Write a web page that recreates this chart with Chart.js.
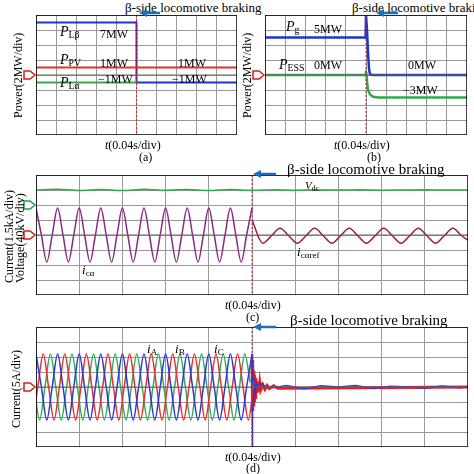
<!DOCTYPE html>
<html><head><meta charset="utf-8">
<script src="https://cdn.jsdelivr.net/npm/chart.js@4"></script>
<style>
body{margin:0;background:#fff;width:474px;height:474px;position:relative;overflow:hidden;font-family:"Liberation Serif",serif;}
.box{position:absolute;}
.t{position:absolute;font-family:"Liberation Serif",serif;color:#000;white-space:nowrap;line-height:1;}
.v{transform-origin:left top;transform:rotate(-90deg);}
i{font-style:italic}
sub{font-size:70%;vertical-align:-2px}
</style></head><body>
<div class="box" style="left:36px;top:15px;width:201px;height:120px"><canvas id="ca"></canvas></div>
<div class="box" style="left:265px;top:15px;width:202px;height:120px"><canvas id="cb"></canvas></div>
<div class="box" style="left:36px;top:175px;width:432px;height:120px"><canvas id="cc"></canvas></div>
<div class="box" style="left:36px;top:327px;width:432px;height:120px"><canvas id="cd"></canvas></div>

<div class="t" style="left:125px;top:1px;font-size:13px">β-side locomotive braking</div>
<div class="t" style="left:352px;top:1px;font-size:13px">β-side locomotive braking</div>
<div class="t" style="left:287px;top:162px;font-size:15px">β-side locomotive braking</div>
<div class="t" style="left:290px;top:313px;font-size:15px">β-side locomotive braking</div>
<svg class="box" style="left:0;top:0" width="474" height="474">
 <g fill="#1f6fbf" stroke="#1f6fbf" stroke-width="2.5">
  <line x1="160" y1="13" x2="145" y2="13"/><polygon points="139,13 147,9 147,17" stroke="none"/>
  <line x1="398" y1="13" x2="382" y2="13"/><polygon points="376,13 384,9 384,17" stroke="none"/>
  <line x1="276" y1="174" x2="260" y2="174"/><polygon points="253,174 261,170 261,178" stroke="none"/>
  <line x1="276" y1="327" x2="260" y2="327"/><polygon points="253,327 261,323 261,331" stroke="none"/>
 </g>
 <g fill="none" stroke-width="1.5">
  <path d="M24,71 h6 l5,4 l-5,4 h-6 z" stroke="#d02020"/>
  <path d="M253,71 h6 l5,4 l-5,4 h-6 z" stroke="#d02020"/>
  <path d="M24,201 h6 l5,4 l-5,4 h-6 z" stroke="#20a040"/>
  <path d="M24,231 h6 l5,4 l-5,4 h-6 z" stroke="#d02020"/>
  <path d="M24,383 h6 l5,4 l-5,4 h-6 z" stroke="#d02020"/>
 </g>
</svg>
<div class="t v" style="left:12px;top:118px;font-size:12px">Power(2MW/div)</div>
<div class="t v" style="left:241px;top:118px;font-size:12px">Power(2MW/div)</div>
<div class="t v" style="left:3px;top:283px;font-size:12px">Current(1.5kA/div)</div>
<div class="t v" style="left:14px;top:283px;font-size:12px">Voltage(40kV/div)</div>
<div class="t v" style="left:10px;top:428px;font-size:12px">Current(5A/div)</div>
<div class="t" style="left:105px;top:139px;font-size:12px"><i>t</i>(0.04s/div)</div>
<div class="t" style="left:139px;top:151px;font-size:12px">(a)</div>
<div class="t" style="left:334px;top:139px;font-size:12px"><i>t</i>(0.04s/div)</div>
<div class="t" style="left:367px;top:151px;font-size:12px">(b)</div>
<div class="t" style="left:225px;top:299px;font-size:12px"><i>t</i>(0.04s/div)</div>
<div class="t" style="left:246px;top:311px;font-size:12px">(c)</div>
<div class="t" style="left:225px;top:451px;font-size:12px"><i>t</i>(0.04s/div)</div>
<div class="t" style="left:246px;top:462px;font-size:12px">(d)</div>
<div class="t" style="left:60px;top:25px;font-size:14px"><i>P</i><sub>Lβ</sub></div>
<div class="t" style="left:100px;top:28px;font-size:12px">7MW</div>
<div class="t" style="left:60px;top:53px;font-size:14px"><i>P</i><sub>PV</sub></div>
<div class="t" style="left:100px;top:57px;font-size:12px">1MW</div>
<div class="t" style="left:178px;top:57px;font-size:12px">1MW</div>
<div class="t" style="left:60px;top:76px;font-size:14px"><i>P</i><sub>Lα</sub></div>
<div class="t" style="left:98px;top:73px;font-size:12px">−1MW</div>
<div class="t" style="left:172px;top:73px;font-size:12px">−1MW</div>
<div class="t" style="left:286px;top:20px;font-size:14px"><i>P</i><sub>g</sub></div>
<div class="t" style="left:314px;top:23px;font-size:12px">5MW</div>
<div class="t" style="left:279px;top:58px;font-size:14px"><i>P</i><sub>ESS</sub></div>
<div class="t" style="left:314px;top:59px;font-size:12px">0MW</div>
<div class="t" style="left:408px;top:59px;font-size:12px">0MW</div>
<div class="t" style="left:403px;top:84px;font-size:12px">−3MW</div>
<div class="t" style="left:305px;top:180px;font-size:11px"><i>V</i><sub>dc</sub></div>
<div class="t" style="left:82px;top:263px;font-size:13px"><i>i</i><sub>cα</sub></div>
<div class="t" style="left:297px;top:245px;font-size:13px"><i>i</i><sub>cαref</sub></div>
<div class="t" style="left:147px;top:342px;font-size:13px"><i>i</i><sub>A</sub></div>
<div class="t" style="left:175px;top:342px;font-size:13px"><i>i</i><sub>B</sub></div>
<div class="t" style="left:214px;top:342px;font-size:13px"><i>i</i><sub>C</sub></div>

<script>
const pLbX=[0,5,5,10], pLbY=[3.5,3.5,-0.5,-0.5];
const pPvX=[0,10], pPvY=[0.5,0.5];
const pLaX=[0,5], pLaY=[-0.5,-0.5];
const pgX=[0,4.98,5.0,5.05,5.1,5.15,5.2,5.3,10], pgY=[2.5,2.5,4.0,3.0,1.5,0.4,0.05,0,0];
const pEssX=[0,4.97,5.0,5.03,5.06,5.1,5.2,5.35,5.6,6,10], pEssY=[0,0,0.15,0,-0.6,-1.0,-1.3,-1.45,-1.5,-1.5,-1.5];
const vdcX=[0,0.5,1,1.5,2,2.5,3,3.5,4,4.5,5,5.5,6,6.5,7,7.5,8,8.5,9,9.5,10];
const vdcY=[3.0,3.05,2.97,3.04,2.96,3.05,2.98,3.04,2.96,3.03,2.98,3.02,2.99,3.01,3.0,3.01,2.99,3.0,3.01,3.0,3.0];
const icaY=[1.8,0,-1.8,0,1.8,0,-1.8,0,1.8,0,-1.8,0,1.8,0,-1.8,0,1.8,0,-1.8,0,1.8,0,-1.8,0,1.8,0,-1.8,0,1.8,0,-1.8,0,1.8,0,-1.8,0,1.8,0,-1.8,0,1.8];
const icaRefX=[5.0,5.25,5.45,5.65,5.85,6.05,6.25,6.45,6.65,6.85,7.05,7.25,7.45,7.65,7.85,8.05,8.25,8.45,8.65,8.85,9.05,9.25,9.45,9.65,9.85,10];
const icaRefY=[1.0,-0.55,-0.05,0.45,-0.05,-0.55,-0.05,0.45,-0.05,-0.55,-0.05,0.45,-0.05,-0.55,-0.05,0.45,-0.05,-0.55,-0.05,0.45,-0.05,-0.55,-0.05,0.45,-0.05,-0.35];
const iAY=[2.2,0,-2.2,0,2.2,0,-2.2,0,2.2,0,-2.2,0,2.2,0,-2.2,0,2.2,0,-2.2,0,2.2,0,-2.2,0,2.2,0,-2.2,0,2.2,0,-2.2,0,2.2,0,-2.2,0,2.2,0,-2.2,0,2.2];
const iBY=[2.2,0,-2.2,0,2.2,0,-2.2,0,2.2,0,-2.2,0,2.2,0,-2.2,0,2.2,0,-2.2,0,2.2,0,-2.2,0,2.2,0,-2.2,0,2.2,0,-2.2,0,2.2,0,-2.2,0,2.2,0,-2.2,0,2.2,0,-2.2,0.4];
const iCY=[2.2,0,-2.2,0,2.2,0,-2.2,0,2.2,0,-2.2,0,2.2,0,-2.2,0,2.2,0,-2.2,0,2.2,0,-2.2,0,2.2,0,-2.2,0,2.2,0,-2.2,0,2.2,0,-2.2,0,2.2,0,-2.2,0,2.2,0.3];
const iBlueTrX=[5.0,5.005,5.012,5.02,5.035,5.05,5.08,5.11,5.15,5.2,5.3,5.5,5.8,6.2,6.6,7,7.4,7.8,8.2,8.6,9,9.4,9.8,10];
const iBlueTrY=[2.2,-3.5,-5.7,1.2,-1.0,0.6,-0.4,0.2,0.0,0.25,0.05,-0.05,0.1,-0.12,0.08,0.0,0.1,-0.1,0.05,0.0,-0.08,0.06,-0.05,0.0];
const iRedTrX=[5.0,5.01,5.02,5.03,5.04,5.05,5.06,5.07,5.08,5.09,5.1,5.12,5.14,5.16,5.18,5.2,5.25,5.3,5.35,5.4,5.5,5.6,10];
const iRedTrY=[1.8,-1.6,1.4,-1.2,1.1,-0.9,0.8,-0.7,0.6,-0.5,0.45,-0.4,0.35,-0.3,0.25,-0.2,0.15,-0.15,0.1,-0.1,0.08,-0.08,0.0];
const xy=(xs,ys)=>xs.map((x,i)=>({x,y:ys[i]}));
const qx=(n,off,step)=>Array.from({length:n},(_,i)=>off+i*step);
function ds(data,color,w,tension){return {data,borderColor:color,borderWidth:w||2,pointRadius:0,tension:tension||0,cubicInterpolationMode:tension?'monotone':'default',fill:false};}
const markerLine={id:'ml',afterDatasetsDraw(c){const a=c.chartArea,ctx=c.ctx,x=c.scales.x.getPixelForValue(5);
 ctx.save();ctx.strokeStyle='#d02020';ctx.lineWidth=1;ctx.setLineDash([2,2]);ctx.beginPath();ctx.moveTo(x,a.top);ctx.lineTo(x,a.bottom);ctx.stroke();
 ctx.setLineDash([]);ctx.strokeStyle='#666';ctx.beginPath();const y0=c.scales.y.getPixelForValue(0);ctx.moveTo(a.left,y0);ctx.lineTo(a.right,y0);ctx.stroke();
 ctx.strokeStyle='#000';ctx.lineWidth=1.5;ctx.strokeRect(a.left,a.top,a.right-a.left,a.bottom-a.top);ctx.restore();}};
function mk(id,datasets){
 new Chart(document.getElementById(id),{type:'line',data:{datasets},plugins:[markerLine],
 options:{responsive:true,maintainAspectRatio:false,animation:false,layout:{padding:0},
  plugins:{legend:{display:false},tooltip:{enabled:false}},
  scales:{x:{type:'linear',min:0,max:10,ticks:{display:false,stepSize:1},border:{display:false},grid:{color:'#999',borderDash:[2,2],drawTicks:false,lineWidth:1}},
   y:{min:-4,max:4,ticks:{display:false,stepSize:1},border:{display:false},grid:{color:'#999',borderDash:[2,2],drawTicks:false,lineWidth:1}}}}});
}
mk('ca',[ds(xy(pPvX,pPvY),'#e8302a'),ds(xy(pLaX,pLaY),'#3aa84a'),ds(xy(pLbX,pLbY),'#1f35c8')]);
mk('cb',[ds(xy(pEssX,pEssY),'#2eaa4a',2.5),ds(xy(pgX,pgY),'#1f35c8',2.5)]);
mk('cc',[ds(xy(vdcX,vdcY),'#2eaa4a',1.5,0.4),ds(xy(qx(icaY.length,0,0.125),icaY),'#8a2a88',1.5,1),ds(xy(icaRefX,icaRefY),'#9a1a4a',1.5,1)]);
mk('cd',[ds(xy(qx(iAY.length,0,0.125),iAY),'#2a3ad0',1.5,1),
 ds(xy(qx(iBY.length,-0.333,0.125),iBY),'#e83030',1.5,1),
 ds(xy(qx(iCY.length,-0.167,0.125),iCY),'#3aaa5a',1.5,1),
 ds(xy(iBlueTrX,iBlueTrY),'#2a3ad0',1.5),
 ds(xy(iRedTrX,iRedTrY),'#f01818',3)]);
</script>
</body></html>
